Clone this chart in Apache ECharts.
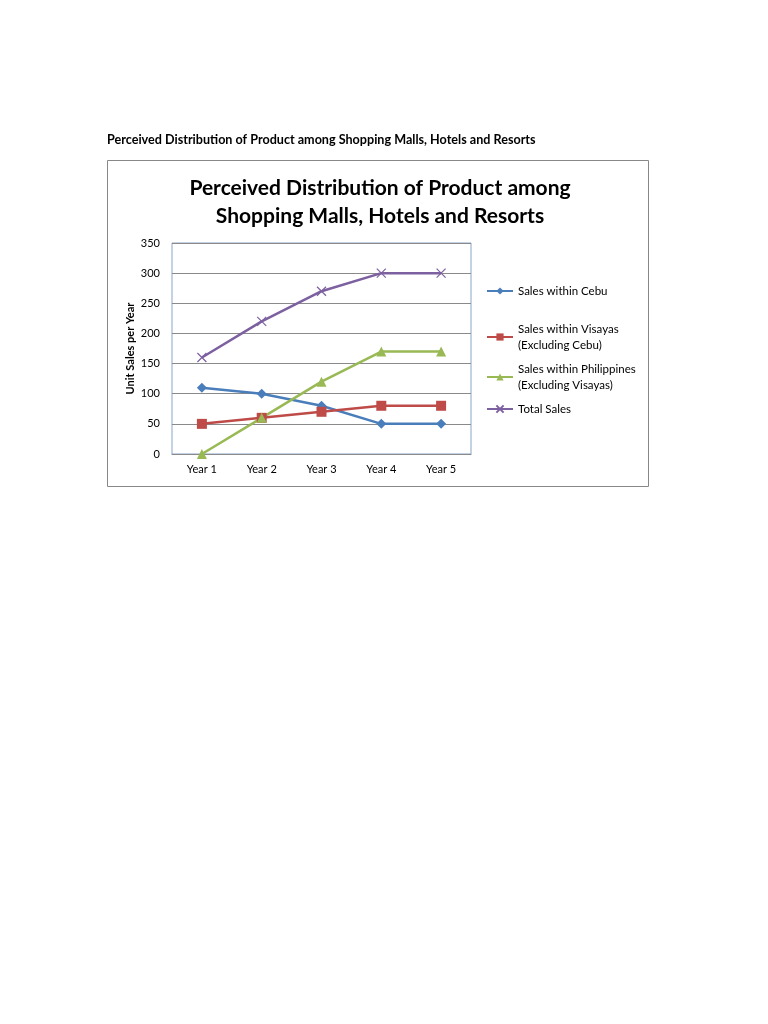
<!DOCTYPE html>
<html>
<head>
<meta charset="utf-8">
<script src="https://cdn.jsdelivr.net/npm/echarts@6/dist/echarts.min.js"></script>
<style>
  html, body { margin: 0; padding: 0; background: #fff; }
  #chart { width: 768px; height: 1024px; }
</style>
</head>
<body>
<div id="chart"></div>
<script>
// chart data
const years = ['Year 1', 'Year 2', 'Year 3', 'Year 4', 'Year 5'];
const cebu = [110, 100, 80, 50, 50];
const visayas = [50, 60, 70, 80, 80];
const philippines = [0, 60, 120, 170, 170];
const total = [160, 220, 270, 300, 300];
const seriesNames = [
  'Sales within Cebu',
  'Sales within Visayas\n(Excluding Cebu)',
  'Sales within Philippines\n(Excluding Visayas)',
  'Total Sales'
];

const font = 'Lato, "Open Sans", sans-serif';
const xMark = 'path://M0,0 L10,10 M10,0 L0,10';

const chart = echarts.init(document.getElementById('chart'));

const lineSeries = (name, data, color, symbol, size) => ({
  name: name,
  type: 'line',
  data: data,
  symbol: symbol,
  symbolSize: size,
  lineStyle: { color: color, width: 2.5 },
  itemStyle: { color: color, borderColor: color, borderWidth: symbol === xMark ? 1.2 : 0 },
  emphasis: { disabled: true }
});

const legendTops = [278, 316, 356, 396];
const legends = seriesNames.map((n, i) => ({
  data: [n],
  left: 481,
  top: legendTops[i],
  orient: 'vertical',
  itemWidth: 26,
  itemHeight: 9,
  itemGap: 4,
  textStyle: { fontFamily: font, fontSize: 11.5, color: '#000', lineHeight: 16 }
}));

chart.setOption({
  animation: false,
  title: [
    {
      text: 'Perceived Distribution of Product among Shopping Malls, Hotels and Resorts',
      left: 102, top: 128,
      textStyle: { fontFamily: font, fontSize: 12.6, fontWeight: 'bold', color: '#000' }
    },
    {
      text: 'Perceived Distribution of Product among\nShopping Malls, Hotels and Resorts',
      left: 375, top: 169, textAlign: 'center',
      textStyle: { fontFamily: font, fontSize: 21, fontWeight: 'bold', color: '#000', lineHeight: 28 }
    }
  ],
  graphic: [{
    type: 'rect',
    shape: { x: 107.5, y: 160.5, width: 541, height: 326 },
    style: { fill: 'none', stroke: '#888', lineWidth: 1 },
    z: -1
  }],
  legend: legends,
  grid: {
    left: 172, right: 297, top: 243, bottom: 570,
    show: true, borderColor: '#8aa4c8', borderWidth: 1
  },
  xAxis: {
    type: 'category',
    data: years,
    boundaryGap: true,
    axisLine: { lineStyle: { color: '#8a8a8a' } },
    axisTick: { show: false },
    axisLabel: { fontFamily: font, fontSize: 11, color: '#000', margin: 10 }
  },
  yAxis: {
    type: 'value',
    min: 0, max: 350, interval: 50,
    name: 'Unit Sales per Year',
    nameLocation: 'middle',
    nameGap: 36,
    nameTextStyle: { fontFamily: font, fontSize: 11, fontWeight: 'bold', color: '#000' },
    axisLine: { show: false },
    axisTick: { show: false },
    splitLine: { lineStyle: { color: '#8a8a8a' } },
    axisLabel: { fontFamily: font, fontSize: 11, color: '#000', margin: 12 }
  },
  series: [
    lineSeries(seriesNames[0], cebu, '#4a7ebb', 'diamond', 10),
    lineSeries(seriesNames[1], visayas, '#be4b48', 'rect', 10),
    lineSeries(seriesNames[2], philippines, '#98b954', 'triangle', 10),
    lineSeries(seriesNames[3], total, '#7d60a0', xMark, 9)
  ]
});
</script>
</body>
</html>
